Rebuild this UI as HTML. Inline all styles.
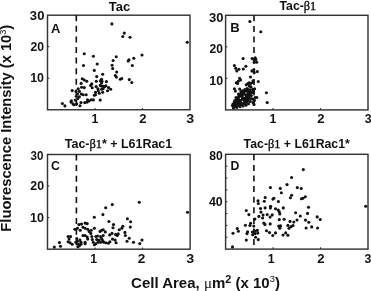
<!DOCTYPE html><html><head><meta charset="utf-8"><title>Figure</title><style>
html,body{margin:0;padding:0;background:#fff;width:371px;height:291px;overflow:hidden}
svg{display:block}
.t{font-family:"Liberation Sans",Arial,sans-serif;font-weight:bold;fill:#111}
.s{font-family:"Liberation Serif","Times New Roman",serif;font-weight:normal;fill:#111;stroke:#111;stroke-width:0.35px}
.n{font-weight:normal}
</style></head><body>
<svg width="371" height="291" viewBox="0 0 371 291">
<rect width="371" height="291" fill="#fff"/>
<rect x="47.5" y="15.2" width="142.50" height="94.55" fill="none" stroke="#353535" stroke-width="1.45"/>
<line x1="47.5" y1="78.23" x2="49.3" y2="78.23" stroke="#353535" stroke-width="1.1"/>
<line x1="47.5" y1="46.72" x2="49.3" y2="46.72" stroke="#353535" stroke-width="1.1"/>
<line x1="95.00" y1="109.75" x2="95.00" y2="107.95" stroke="#353535" stroke-width="1.1"/>
<line x1="142.50" y1="109.75" x2="142.50" y2="107.95" stroke="#353535" stroke-width="1.1"/>
<line x1="76.3" y1="15.2" x2="76.3" y2="109.75" stroke="#111" stroke-width="1.6" stroke-dasharray="6 4.6"/>
<rect x="225.6" y="15.3" width="142.40" height="94.60" fill="none" stroke="#353535" stroke-width="1.45"/>
<line x1="225.6" y1="78.37" x2="227.4" y2="78.37" stroke="#353535" stroke-width="1.1"/>
<line x1="225.6" y1="46.83" x2="227.4" y2="46.83" stroke="#353535" stroke-width="1.1"/>
<line x1="273.07" y1="109.9" x2="273.07" y2="108.10000000000001" stroke="#353535" stroke-width="1.1"/>
<line x1="320.53" y1="109.9" x2="320.53" y2="108.10000000000001" stroke="#353535" stroke-width="1.1"/>
<line x1="254.0" y1="15.3" x2="254.0" y2="109.9" stroke="#111" stroke-width="1.6" stroke-dasharray="6 4.6"/>
<rect x="47.5" y="154.5" width="142.60" height="94.70" fill="none" stroke="#353535" stroke-width="1.45"/>
<line x1="47.5" y1="217.63" x2="49.3" y2="217.63" stroke="#353535" stroke-width="1.1"/>
<line x1="47.5" y1="186.07" x2="49.3" y2="186.07" stroke="#353535" stroke-width="1.1"/>
<line x1="95.03" y1="249.2" x2="95.03" y2="247.39999999999998" stroke="#353535" stroke-width="1.1"/>
<line x1="142.57" y1="249.2" x2="142.57" y2="247.39999999999998" stroke="#353535" stroke-width="1.1"/>
<line x1="76.4" y1="154.5" x2="76.4" y2="249.2" stroke="#111" stroke-width="1.6" stroke-dasharray="6 4.6"/>
<rect x="225.6" y="154.3" width="142.40" height="94.80" fill="none" stroke="#353535" stroke-width="1.45"/>
<line x1="225.6" y1="237.25" x2="227.4" y2="237.25" stroke="#353535" stroke-width="1.1"/>
<line x1="225.6" y1="225.40" x2="227.4" y2="225.40" stroke="#353535" stroke-width="1.1"/>
<line x1="225.6" y1="213.55" x2="227.4" y2="213.55" stroke="#353535" stroke-width="1.1"/>
<line x1="225.6" y1="201.70" x2="227.4" y2="201.70" stroke="#353535" stroke-width="1.1"/>
<line x1="225.6" y1="189.85" x2="227.4" y2="189.85" stroke="#353535" stroke-width="1.1"/>
<line x1="225.6" y1="178.00" x2="227.4" y2="178.00" stroke="#353535" stroke-width="1.1"/>
<line x1="225.6" y1="166.15" x2="227.4" y2="166.15" stroke="#353535" stroke-width="1.1"/>
<line x1="273.07" y1="249.1" x2="273.07" y2="247.29999999999998" stroke="#353535" stroke-width="1.1"/>
<line x1="320.53" y1="249.1" x2="320.53" y2="247.29999999999998" stroke="#353535" stroke-width="1.1"/>
<line x1="253.9" y1="154.3" x2="253.9" y2="249.1" stroke="#111" stroke-width="1.6" stroke-dasharray="6 4.6"/>
<circle cx="111.9" cy="23.9" r="1.55" fill="#111"/>
<circle cx="124.3" cy="33.1" r="1.55" fill="#111"/>
<circle cx="122.8" cy="36.5" r="1.55" fill="#111"/>
<circle cx="130.0" cy="37.2" r="1.55" fill="#111"/>
<circle cx="187.2" cy="42.2" r="1.55" fill="#111"/>
<circle cx="84.2" cy="53.8" r="1.55" fill="#111"/>
<circle cx="93.4" cy="56.2" r="1.55" fill="#111"/>
<circle cx="116.2" cy="56.7" r="1.55" fill="#111"/>
<circle cx="113.1" cy="60.5" r="1.55" fill="#111"/>
<circle cx="142.0" cy="55.0" r="1.55" fill="#111"/>
<circle cx="133.8" cy="58.3" r="1.55" fill="#111"/>
<circle cx="128.2" cy="61.0" r="1.55" fill="#111"/>
<circle cx="129.0" cy="59.8" r="1.55" fill="#111"/>
<circle cx="83.5" cy="65.5" r="1.55" fill="#111"/>
<circle cx="97.2" cy="64.0" r="1.55" fill="#111"/>
<circle cx="94.3" cy="70.4" r="1.55" fill="#111"/>
<circle cx="96.7" cy="76.6" r="1.55" fill="#111"/>
<circle cx="82.3" cy="78.7" r="1.55" fill="#111"/>
<circle cx="84.3" cy="80.0" r="1.55" fill="#111"/>
<circle cx="86.8" cy="81.2" r="1.55" fill="#111"/>
<circle cx="81.1" cy="83.4" r="1.55" fill="#111"/>
<circle cx="96.3" cy="81.2" r="1.55" fill="#111"/>
<circle cx="91.8" cy="83.9" r="1.55" fill="#111"/>
<circle cx="90.7" cy="85.4" r="1.55" fill="#111"/>
<circle cx="112.1" cy="65.2" r="1.55" fill="#111"/>
<circle cx="112.7" cy="68.5" r="1.55" fill="#111"/>
<circle cx="116.7" cy="72.0" r="1.55" fill="#111"/>
<circle cx="115.3" cy="75.5" r="1.55" fill="#111"/>
<circle cx="116.4" cy="77.1" r="1.55" fill="#111"/>
<circle cx="120.3" cy="79.3" r="1.55" fill="#111"/>
<circle cx="121.8" cy="78.5" r="1.55" fill="#111"/>
<circle cx="132.3" cy="65.5" r="1.55" fill="#111"/>
<circle cx="129.3" cy="79.6" r="1.55" fill="#111"/>
<circle cx="131.8" cy="82.5" r="1.55" fill="#111"/>
<circle cx="102.7" cy="74.2" r="1.55" fill="#111"/>
<circle cx="101.5" cy="79.2" r="1.55" fill="#111"/>
<circle cx="100.5" cy="80.9" r="1.55" fill="#111"/>
<circle cx="106.4" cy="81.6" r="1.55" fill="#111"/>
<circle cx="101.6" cy="83.0" r="1.55" fill="#111"/>
<circle cx="103.2" cy="86.2" r="1.55" fill="#111"/>
<circle cx="92.2" cy="87.7" r="1.55" fill="#111"/>
<circle cx="96.1" cy="86.6" r="1.55" fill="#111"/>
<circle cx="100.3" cy="85.4" r="1.55" fill="#111"/>
<circle cx="105.9" cy="85.8" r="1.55" fill="#111"/>
<circle cx="97.9" cy="88.8" r="1.55" fill="#111"/>
<circle cx="101.6" cy="89.2" r="1.55" fill="#111"/>
<circle cx="108.5" cy="87.6" r="1.55" fill="#111"/>
<circle cx="110.7" cy="89.2" r="1.55" fill="#111"/>
<circle cx="107.5" cy="90.7" r="1.55" fill="#111"/>
<circle cx="95.5" cy="92.3" r="1.55" fill="#111"/>
<circle cx="99.3" cy="93.2" r="1.55" fill="#111"/>
<circle cx="102.7" cy="92.2" r="1.55" fill="#111"/>
<circle cx="94.3" cy="95.2" r="1.55" fill="#111"/>
<circle cx="102" cy="81.2" r="1.55" fill="#111"/>
<circle cx="101.5" cy="86.1" r="1.55" fill="#111"/>
<circle cx="104.7" cy="86.6" r="1.55" fill="#111"/>
<circle cx="103.1" cy="88.8" r="1.55" fill="#111"/>
<circle cx="95.5" cy="94.7" r="1.55" fill="#111"/>
<circle cx="100.2" cy="100.1" r="1.55" fill="#111"/>
<circle cx="62.4" cy="103.5" r="1.55" fill="#111"/>
<circle cx="64.9" cy="105.9" r="1.55" fill="#111"/>
<circle cx="71.0" cy="102.1" r="1.55" fill="#111"/>
<circle cx="72.9" cy="103.7" r="1.55" fill="#111"/>
<circle cx="74" cy="104.8" r="1.55" fill="#111"/>
<circle cx="76.7" cy="103.7" r="1.55" fill="#111"/>
<circle cx="80" cy="105.7" r="1.55" fill="#111"/>
<circle cx="81" cy="102.6" r="1.55" fill="#111"/>
<circle cx="87.5" cy="99.8" r="1.55" fill="#111"/>
<circle cx="91.3" cy="99.7" r="1.55" fill="#111"/>
<circle cx="93.4" cy="99.9" r="1.55" fill="#111"/>
<circle cx="84.8" cy="102.6" r="1.55" fill="#111"/>
<circle cx="87" cy="102.1" r="1.55" fill="#111"/>
<circle cx="89.1" cy="101" r="1.55" fill="#111"/>
<circle cx="98.3" cy="90.8" r="1.55" fill="#111"/>
<circle cx="81.6" cy="87.2" r="1.55" fill="#111"/>
<circle cx="84.3" cy="87.6" r="1.55" fill="#111"/>
<circle cx="78.2" cy="88.7" r="1.55" fill="#111"/>
<circle cx="72.2" cy="90.6" r="1.55" fill="#111"/>
<circle cx="76.0" cy="91.4" r="1.55" fill="#111"/>
<circle cx="79.4" cy="91.4" r="1.55" fill="#111"/>
<circle cx="77.5" cy="94.0" r="1.55" fill="#111"/>
<circle cx="81.3" cy="94.0" r="1.55" fill="#111"/>
<circle cx="83.2" cy="94.8" r="1.55" fill="#111"/>
<circle cx="86.2" cy="94.8" r="1.55" fill="#111"/>
<circle cx="76.3" cy="96.3" r="1.55" fill="#111"/>
<circle cx="79.4" cy="96.7" r="1.55" fill="#111"/>
<circle cx="77.8" cy="98.6" r="1.55" fill="#111"/>
<circle cx="75.2" cy="100.1" r="1.55" fill="#111"/>
<circle cx="71.4" cy="100.8" r="1.55" fill="#111"/>
<circle cx="249.9" cy="21.5" r="1.55" fill="#111"/>
<circle cx="260.8" cy="31.7" r="1.55" fill="#111"/>
<circle cx="243.1" cy="58.5" r="1.55" fill="#111"/>
<circle cx="252.1" cy="58.5" r="1.55" fill="#111"/>
<circle cx="255.2" cy="57.9" r="1.55" fill="#111"/>
<circle cx="255.9" cy="59.5" r="1.55" fill="#111"/>
<circle cx="254.2" cy="60.4" r="1.55" fill="#111"/>
<circle cx="256.7" cy="62.2" r="1.55" fill="#111"/>
<circle cx="254.2" cy="62.2" r="1.55" fill="#111"/>
<circle cx="234.4" cy="65.5" r="1.55" fill="#111"/>
<circle cx="235.7" cy="68.2" r="1.55" fill="#111"/>
<circle cx="236.8" cy="70.9" r="1.55" fill="#111"/>
<circle cx="238.9" cy="69.3" r="1.55" fill="#111"/>
<circle cx="245.9" cy="66.2" r="1.55" fill="#111"/>
<circle cx="243.3" cy="69.0" r="1.55" fill="#111"/>
<circle cx="251.9" cy="70.9" r="1.55" fill="#111"/>
<circle cx="253.8" cy="69.8" r="1.55" fill="#111"/>
<circle cx="254.2" cy="72.5" r="1.55" fill="#111"/>
<circle cx="257.3" cy="71.6" r="1.55" fill="#111"/>
<circle cx="250.5" cy="77.0" r="1.55" fill="#111"/>
<circle cx="239.6" cy="78.4" r="1.55" fill="#111"/>
<circle cx="240.6" cy="80.0" r="1.55" fill="#111"/>
<circle cx="238.2" cy="81.3" r="1.55" fill="#111"/>
<circle cx="236.3" cy="82.7" r="1.55" fill="#111"/>
<circle cx="253.0" cy="80.9" r="1.55" fill="#111"/>
<circle cx="258.3" cy="81.5" r="1.55" fill="#111"/>
<circle cx="249.2" cy="82.7" r="1.55" fill="#111"/>
<circle cx="234.4" cy="88.8" r="1.55" fill="#111"/>
<circle cx="235.4" cy="91.1" r="1.55" fill="#111"/>
<circle cx="239.7" cy="89.0" r="1.55" fill="#111"/>
<circle cx="252.7" cy="89.3" r="1.55" fill="#111"/>
<circle cx="254.6" cy="88.8" r="1.55" fill="#111"/>
<circle cx="253.1" cy="92.6" r="1.55" fill="#111"/>
<circle cx="255.2" cy="97.5" r="1.55" fill="#111"/>
<circle cx="254.4" cy="100.4" r="1.55" fill="#111"/>
<circle cx="253.0" cy="102.5" r="1.55" fill="#111"/>
<circle cx="254.0" cy="104.5" r="1.55" fill="#111"/>
<circle cx="256.8" cy="97.5" r="1.55" fill="#111"/>
<circle cx="237.6" cy="83.5" r="1.55" fill="#111"/>
<circle cx="246.2" cy="84.8" r="1.55" fill="#111"/>
<circle cx="248.0" cy="83.5" r="1.55" fill="#111"/>
<circle cx="249.2" cy="86.1" r="1.55" fill="#111"/>
<circle cx="250.5" cy="83.5" r="1.55" fill="#111"/>
<circle cx="252.7" cy="82.6" r="1.55" fill="#111"/>
<circle cx="253.1" cy="90.8" r="1.55" fill="#111"/>
<circle cx="251.0" cy="86.9" r="1.55" fill="#111"/>
<circle cx="242.3" cy="90.8" r="1.55" fill="#111"/>
<circle cx="244.9" cy="89.5" r="1.55" fill="#111"/>
<circle cx="248.0" cy="89.9" r="1.55" fill="#111"/>
<circle cx="250.1" cy="91.2" r="1.55" fill="#111"/>
<circle cx="236.0" cy="97.5" r="1.55" fill="#111"/>
<circle cx="238.5" cy="94.0" r="1.55" fill="#111"/>
<circle cx="241.0" cy="91.6" r="1.55" fill="#111"/>
<circle cx="247.0" cy="88.6" r="1.55" fill="#111"/>
<circle cx="249.8" cy="89.8" r="1.55" fill="#111"/>
<circle cx="251.0" cy="92.5" r="1.55" fill="#111"/>
<circle cx="251.3" cy="95.5" r="1.55" fill="#111"/>
<circle cx="251.0" cy="98.5" r="1.55" fill="#111"/>
<circle cx="250.3" cy="101.5" r="1.55" fill="#111"/>
<circle cx="248.5" cy="103.8" r="1.55" fill="#111"/>
<circle cx="246.0" cy="105.2" r="1.55" fill="#111"/>
<circle cx="243.0" cy="106.0" r="1.55" fill="#111"/>
<circle cx="240.0" cy="106.6" r="1.55" fill="#111"/>
<circle cx="236.8" cy="107.5" r="1.55" fill="#111"/>
<circle cx="233.5" cy="108.0" r="1.55" fill="#111"/>
<circle cx="232.5" cy="105.5" r="1.55" fill="#111"/>
<circle cx="234.3" cy="102.0" r="1.55" fill="#111"/>
<circle cx="252.7" cy="99.0" r="1.55" fill="#111"/>
<circle cx="233.0" cy="104.0" r="1.55" fill="#111"/>
<circle cx="235.0" cy="100.5" r="1.55" fill="#111"/>
<circle cx="266.4" cy="92.7" r="1.55" fill="#111"/>
<circle cx="267.2" cy="102.6" r="1.55" fill="#111"/>
<circle cx="112.3" cy="204.6" r="1.55" fill="#111"/>
<circle cx="139.3" cy="202.2" r="1.55" fill="#111"/>
<circle cx="187.5" cy="212.3" r="1.55" fill="#111"/>
<circle cx="54.3" cy="247.1" r="1.55" fill="#111"/>
<circle cx="59.4" cy="242.6" r="1.55" fill="#111"/>
<circle cx="60.5" cy="246.2" r="1.55" fill="#111"/>
<circle cx="105.7" cy="207.8" r="1.55" fill="#111"/>
<circle cx="102.9" cy="214.6" r="1.55" fill="#111"/>
<circle cx="94.3" cy="217.3" r="1.55" fill="#111"/>
<circle cx="127.4" cy="218.8" r="1.55" fill="#111"/>
<circle cx="130.6" cy="221.7" r="1.55" fill="#111"/>
<circle cx="130.3" cy="227.1" r="1.55" fill="#111"/>
<circle cx="129.2" cy="238.2" r="1.55" fill="#111"/>
<circle cx="133.5" cy="242.3" r="1.55" fill="#111"/>
<circle cx="142.0" cy="240.1" r="1.55" fill="#111"/>
<circle cx="139.8" cy="243.6" r="1.55" fill="#111"/>
<circle cx="78.9" cy="224.6" r="1.55" fill="#111"/>
<circle cx="81.5" cy="224.1" r="1.55" fill="#111"/>
<circle cx="85.1" cy="223.1" r="1.55" fill="#111"/>
<circle cx="87.2" cy="223.6" r="1.55" fill="#111"/>
<circle cx="74.8" cy="229.3" r="1.55" fill="#111"/>
<circle cx="77.4" cy="228.3" r="1.55" fill="#111"/>
<circle cx="80.2" cy="230.3" r="1.55" fill="#111"/>
<circle cx="83.0" cy="227.2" r="1.55" fill="#111"/>
<circle cx="85.1" cy="228.3" r="1.55" fill="#111"/>
<circle cx="87.7" cy="229.3" r="1.55" fill="#111"/>
<circle cx="89.2" cy="231.4" r="1.55" fill="#111"/>
<circle cx="91.3" cy="230.3" r="1.55" fill="#111"/>
<circle cx="94.4" cy="228.3" r="1.55" fill="#111"/>
<circle cx="68.1" cy="236.5" r="1.55" fill="#111"/>
<circle cx="70.6" cy="236.5" r="1.55" fill="#111"/>
<circle cx="69.1" cy="239.1" r="1.55" fill="#111"/>
<circle cx="68.1" cy="241.7" r="1.55" fill="#111"/>
<circle cx="70.1" cy="242.7" r="1.55" fill="#111"/>
<circle cx="72.2" cy="244.3" r="1.55" fill="#111"/>
<circle cx="76.8" cy="238.6" r="1.55" fill="#111"/>
<circle cx="77.4" cy="241.2" r="1.55" fill="#111"/>
<circle cx="75.8" cy="242.2" r="1.55" fill="#111"/>
<circle cx="78.4" cy="244.3" r="1.55" fill="#111"/>
<circle cx="79.4" cy="245.8" r="1.55" fill="#111"/>
<circle cx="77.9" cy="246.8" r="1.55" fill="#111"/>
<circle cx="79.9" cy="240.1" r="1.55" fill="#111"/>
<circle cx="81.0" cy="242.2" r="1.55" fill="#111"/>
<circle cx="81.0" cy="244.3" r="1.55" fill="#111"/>
<circle cx="83.0" cy="235.5" r="1.55" fill="#111"/>
<circle cx="85.1" cy="235.5" r="1.55" fill="#111"/>
<circle cx="87.2" cy="237.0" r="1.55" fill="#111"/>
<circle cx="87.7" cy="239.1" r="1.55" fill="#111"/>
<circle cx="85.1" cy="242.2" r="1.55" fill="#111"/>
<circle cx="85.1" cy="243.7" r="1.55" fill="#111"/>
<circle cx="90.8" cy="233.4" r="1.55" fill="#111"/>
<circle cx="91.8" cy="236.5" r="1.55" fill="#111"/>
<circle cx="92.3" cy="239.6" r="1.55" fill="#111"/>
<circle cx="93.3" cy="242.2" r="1.55" fill="#111"/>
<circle cx="94.4" cy="244.8" r="1.55" fill="#111"/>
<circle cx="95.9" cy="236.5" r="1.55" fill="#111"/>
<circle cx="96.7" cy="239.6" r="1.55" fill="#111"/>
<circle cx="95.9" cy="243.7" r="1.55" fill="#111"/>
<circle cx="108.9" cy="221.5" r="1.55" fill="#111"/>
<circle cx="113.5" cy="224.6" r="1.55" fill="#111"/>
<circle cx="113.0" cy="227.7" r="1.55" fill="#111"/>
<circle cx="122.8" cy="226.2" r="1.55" fill="#111"/>
<circle cx="121.8" cy="228.3" r="1.55" fill="#111"/>
<circle cx="119.2" cy="229.8" r="1.55" fill="#111"/>
<circle cx="101.7" cy="230.3" r="1.55" fill="#111"/>
<circle cx="103.2" cy="229.8" r="1.55" fill="#111"/>
<circle cx="105.3" cy="231.9" r="1.55" fill="#111"/>
<circle cx="100.1" cy="231.4" r="1.55" fill="#111"/>
<circle cx="124.9" cy="232.4" r="1.55" fill="#111"/>
<circle cx="125.4" cy="235.5" r="1.55" fill="#111"/>
<circle cx="109.7" cy="234.9" r="1.55" fill="#111"/>
<circle cx="112.0" cy="233.4" r="1.55" fill="#111"/>
<circle cx="115.6" cy="234.4" r="1.55" fill="#111"/>
<circle cx="118.2" cy="233.9" r="1.55" fill="#111"/>
<circle cx="117.2" cy="235.5" r="1.55" fill="#111"/>
<circle cx="97.5" cy="236.0" r="1.55" fill="#111"/>
<circle cx="100.6" cy="236.5" r="1.55" fill="#111"/>
<circle cx="103.2" cy="235.5" r="1.55" fill="#111"/>
<circle cx="99.1" cy="240.1" r="1.55" fill="#111"/>
<circle cx="101.7" cy="238.6" r="1.55" fill="#111"/>
<circle cx="102.7" cy="240.6" r="1.55" fill="#111"/>
<circle cx="98.1" cy="242.2" r="1.55" fill="#111"/>
<circle cx="100.6" cy="242.2" r="1.55" fill="#111"/>
<circle cx="103.7" cy="242.2" r="1.55" fill="#111"/>
<circle cx="105.8" cy="242.7" r="1.55" fill="#111"/>
<circle cx="108.4" cy="243.2" r="1.55" fill="#111"/>
<circle cx="109.9" cy="241.7" r="1.55" fill="#111"/>
<circle cx="112.5" cy="239.1" r="1.55" fill="#111"/>
<circle cx="115.1" cy="240.1" r="1.55" fill="#111"/>
<circle cx="116.1" cy="242.7" r="1.55" fill="#111"/>
<circle cx="127.0" cy="241.2" r="1.55" fill="#111"/>
<circle cx="303.3" cy="169.6" r="1.55" fill="#111"/>
<circle cx="291.6" cy="177.5" r="1.55" fill="#111"/>
<circle cx="287.0" cy="184.6" r="1.55" fill="#111"/>
<circle cx="270.4" cy="187.6" r="1.55" fill="#111"/>
<circle cx="280.3" cy="188.4" r="1.55" fill="#111"/>
<circle cx="281.4" cy="192.8" r="1.55" fill="#111"/>
<circle cx="297.3" cy="187.6" r="1.55" fill="#111"/>
<circle cx="301.2" cy="188.5" r="1.55" fill="#111"/>
<circle cx="291.6" cy="195.3" r="1.55" fill="#111"/>
<circle cx="290.4" cy="197.8" r="1.55" fill="#111"/>
<circle cx="265.2" cy="197.5" r="1.55" fill="#111"/>
<circle cx="272.9" cy="199.1" r="1.55" fill="#111"/>
<circle cx="278.4" cy="201.5" r="1.55" fill="#111"/>
<circle cx="302.9" cy="198.3" r="1.55" fill="#111"/>
<circle cx="305.3" cy="196.7" r="1.55" fill="#111"/>
<circle cx="264.3" cy="201.3" r="1.55" fill="#111"/>
<circle cx="258.0" cy="200.7" r="1.55" fill="#111"/>
<circle cx="258.3" cy="203.5" r="1.55" fill="#111"/>
<circle cx="260.5" cy="208.5" r="1.55" fill="#111"/>
<circle cx="265.1" cy="207.9" r="1.55" fill="#111"/>
<circle cx="261.0" cy="212.1" r="1.55" fill="#111"/>
<circle cx="246.3" cy="210.5" r="1.55" fill="#111"/>
<circle cx="248.9" cy="214.6" r="1.55" fill="#111"/>
<circle cx="263.1" cy="215.1" r="1.55" fill="#111"/>
<circle cx="258.9" cy="216.4" r="1.55" fill="#111"/>
<circle cx="262.6" cy="218.0" r="1.55" fill="#111"/>
<circle cx="254.9" cy="219.1" r="1.55" fill="#111"/>
<circle cx="263.8" cy="223.1" r="1.55" fill="#111"/>
<circle cx="264.9" cy="224.4" r="1.55" fill="#111"/>
<circle cx="245.4" cy="225.3" r="1.55" fill="#111"/>
<circle cx="250.6" cy="223.2" r="1.55" fill="#111"/>
<circle cx="249.9" cy="225.5" r="1.55" fill="#111"/>
<circle cx="253.8" cy="226.1" r="1.55" fill="#111"/>
<circle cx="237.3" cy="228.6" r="1.55" fill="#111"/>
<circle cx="238.4" cy="231.2" r="1.55" fill="#111"/>
<circle cx="233.0" cy="233.3" r="1.55" fill="#111"/>
<circle cx="247.6" cy="231.8" r="1.55" fill="#111"/>
<circle cx="247.0" cy="233.6" r="1.55" fill="#111"/>
<circle cx="252.4" cy="232.0" r="1.55" fill="#111"/>
<circle cx="254.6" cy="230.9" r="1.55" fill="#111"/>
<circle cx="257.3" cy="230.4" r="1.55" fill="#111"/>
<circle cx="252.7" cy="234.8" r="1.55" fill="#111"/>
<circle cx="255.1" cy="233.6" r="1.55" fill="#111"/>
<circle cx="257.8" cy="233.1" r="1.55" fill="#111"/>
<circle cx="255.6" cy="237.2" r="1.55" fill="#111"/>
<circle cx="258.3" cy="239.6" r="1.55" fill="#111"/>
<circle cx="246.3" cy="240.1" r="1.55" fill="#111"/>
<circle cx="232.5" cy="246.9" r="1.55" fill="#111"/>
<circle cx="273.9" cy="198.2" r="1.55" fill="#111"/>
<circle cx="301.4" cy="198.8" r="1.55" fill="#111"/>
<circle cx="270.6" cy="206.3" r="1.55" fill="#111"/>
<circle cx="270.4" cy="207.9" r="1.55" fill="#111"/>
<circle cx="275.5" cy="208.8" r="1.55" fill="#111"/>
<circle cx="278.2" cy="210.1" r="1.55" fill="#111"/>
<circle cx="279.3" cy="211.7" r="1.55" fill="#111"/>
<circle cx="279.8" cy="213.9" r="1.55" fill="#111"/>
<circle cx="283.3" cy="207.9" r="1.55" fill="#111"/>
<circle cx="295.6" cy="212.8" r="1.55" fill="#111"/>
<circle cx="267.2" cy="214.6" r="1.55" fill="#111"/>
<circle cx="270.1" cy="217.1" r="1.55" fill="#111"/>
<circle cx="272.2" cy="214.9" r="1.55" fill="#111"/>
<circle cx="279.3" cy="219.6" r="1.55" fill="#111"/>
<circle cx="284.1" cy="219.3" r="1.55" fill="#111"/>
<circle cx="300.3" cy="216.0" r="1.55" fill="#111"/>
<circle cx="290.0" cy="221.4" r="1.55" fill="#111"/>
<circle cx="293.8" cy="222.0" r="1.55" fill="#111"/>
<circle cx="297.0" cy="220.0" r="1.55" fill="#111"/>
<circle cx="270.2" cy="223.9" r="1.55" fill="#111"/>
<circle cx="280.6" cy="225.9" r="1.55" fill="#111"/>
<circle cx="287.9" cy="225.4" r="1.55" fill="#111"/>
<circle cx="293.0" cy="225.5" r="1.55" fill="#111"/>
<circle cx="278.7" cy="226.1" r="1.55" fill="#111"/>
<circle cx="279.8" cy="228.2" r="1.55" fill="#111"/>
<circle cx="289.0" cy="228.2" r="1.55" fill="#111"/>
<circle cx="291.1" cy="226.6" r="1.55" fill="#111"/>
<circle cx="266.5" cy="230.7" r="1.55" fill="#111"/>
<circle cx="269.5" cy="232.6" r="1.55" fill="#111"/>
<circle cx="272.8" cy="235.5" r="1.55" fill="#111"/>
<circle cx="275.5" cy="232.9" r="1.55" fill="#111"/>
<circle cx="283.0" cy="235.0" r="1.55" fill="#111"/>
<circle cx="285.7" cy="232.9" r="1.55" fill="#111"/>
<circle cx="287.9" cy="235.3" r="1.55" fill="#111"/>
<circle cx="308.5" cy="207.2" r="1.55" fill="#111"/>
<circle cx="307.5" cy="213.4" r="1.55" fill="#111"/>
<circle cx="305.5" cy="220.1" r="1.55" fill="#111"/>
<circle cx="308.8" cy="222.3" r="1.55" fill="#111"/>
<circle cx="317.2" cy="216.9" r="1.55" fill="#111"/>
<circle cx="320.2" cy="219.5" r="1.55" fill="#111"/>
<circle cx="306.1" cy="228.0" r="1.55" fill="#111"/>
<circle cx="311.7" cy="226.9" r="1.55" fill="#111"/>
<circle cx="317.6" cy="228.0" r="1.55" fill="#111"/>
<circle cx="365.7" cy="206.3" r="1.55" fill="#111"/>
<path d="M232.1,107.2 L233.5,103.5 L235.7,99.5 L237.5,96.5 L239.3,93.5 L241.5,91.3 L243.7,90.0 L246.5,89.3 L249.0,89.6 L250.3,91.0 L250.5,93.5 L250.0,96.5 L249.3,100.0 L247.8,102.5 L245.0,104.3 L241.0,105.6 L237.5,106.6 L234.5,108.0 Z" fill="#111" stroke="#111" stroke-width="1.0" stroke-linejoin="round"/>
<circle cx="240.4" cy="98.2" r="0.7" fill="#fff"/>
<circle cx="244.2" cy="96.2" r="0.7" fill="#fff"/>
<circle cx="246.0" cy="93.0" r="0.7" fill="#fff"/>
<circle cx="242.5" cy="101.5" r="0.7" fill="#fff"/>
<text class="t" font-size="12.30" transform="translate(29.87,19.70) scale(1.0645,1)" x="0" y="0">30</text>
<text class="t" font-size="12.30" transform="translate(30.58,51.10) scale(0.9940,1)" x="0" y="0">20</text>
<text class="t" font-size="12.30" transform="translate(30.20,81.50) scale(1.0121,1)" x="0" y="0">10</text>
<text class="t" font-size="12.30" transform="translate(209.02,21.50) scale(1.0582,1)" x="0" y="0">30</text>
<text class="t" font-size="12.30" transform="translate(209.49,52.80) scale(0.9813,1)" x="0" y="0">20</text>
<text class="t" font-size="12.30" transform="translate(209.19,84.60) scale(1.0163,1)" x="0" y="0">10</text>
<text class="t" font-size="12.30" transform="translate(30.56,160.00) scale(0.9405,1)" x="0" y="0">30</text>
<text class="t" font-size="12.30" transform="translate(30.27,190.40) scale(1.0054,1)" x="0" y="0">20</text>
<text class="t" font-size="12.30" transform="translate(30.07,222.30) scale(1.0259,1)" x="0" y="0">10</text>
<text class="t" font-size="12.30" transform="translate(209.17,159.70) scale(0.9909,1)" x="0" y="0">80</text>
<text class="t" font-size="12.30" transform="translate(208.88,206.20) scale(1.0104,1)" x="0" y="0">40</text>
<text class="t" font-size="12.30" transform="translate(91.40,123.30) scale(1.0000,1)" x="0" y="0">1</text>
<text class="t" font-size="12.30" transform="translate(139.14,123.20) scale(1.0653,1)" x="0" y="0">2</text>
<text class="t" font-size="12.30" transform="translate(186.20,122.60) scale(1.1600,1)" x="0" y="0">3</text>
<text class="t" font-size="12.30" transform="translate(269.40,123.30) scale(1.0000,1)" x="0" y="0">1</text>
<text class="t" font-size="12.30" transform="translate(317.14,123.20) scale(1.0653,1)" x="0" y="0">2</text>
<text class="t" font-size="12.30" transform="translate(364.85,122.60) scale(1.0000,1)" x="0" y="0">3</text>
<text class="t" font-size="12.30" transform="translate(90.20,262.50) scale(1.0000,1)" x="0" y="0">1</text>
<text class="t" font-size="12.30" transform="translate(137.85,262.60) scale(1.1101,1)" x="0" y="0">2</text>
<text class="t" font-size="12.30" transform="translate(186.20,262.60) scale(1.1600,1)" x="0" y="0">3</text>
<text class="t" font-size="12.30" transform="translate(267.67,262.50) scale(1.0000,1)" x="0" y="0">1</text>
<text class="t" font-size="12.30" transform="translate(317.14,262.60) scale(1.0653,1)" x="0" y="0">2</text>
<text class="t" font-size="12.30" transform="translate(364.53,262.60) scale(1.0000,1)" x="0" y="0">3</text>
<text class="t" font-size="12.30" transform="translate(51.12,32.90) scale(1.0580,1)" x="0" y="0">A</text>
<text class="t" font-size="12.30" transform="translate(230.22,31.60) scale(1.0641,1)" x="0" y="0">B</text>
<text class="t" font-size="12.30" transform="translate(51.12,169.90) scale(1.0000,1)" x="0" y="0">C</text>
<text class="t" font-size="12.30" transform="translate(230.61,170.40) scale(0.9926,1)" x="0" y="0">D</text>
<text class="t" font-size="12.30" transform="translate(108.79,10.50) scale(1.0567,1)" x="0" y="0">Tac</text>
<text class="t" font-size="12.30" transform="translate(279.47,9.70) scale(1.0011,1)" x="0" y="0">Tac-<tspan class="s">β1</tspan></text>
<text class="t" font-size="12.30" transform="translate(64.83,147.50) scale(1.0114,1)" x="0" y="0">Tac-<tspan class="s">β1</tspan>* + L61Rac1</text>
<text class="t" font-size="12.30" transform="translate(243.61,147.50) scale(1.0011,1)" x="0" y="0">Tac-<tspan class="s">β1</tspan> + L61Rac1*</text>
<text class="t" font-size="14.50" transform="translate(11.20,231.66) rotate(-90) scale(1.0150,1)" x="0" y="0">Fluorescence Intensity (x 10<tspan class="n" font-size="9" dy="-5.5">3</tspan><tspan dy="5.5">)</tspan></text>
<text class="t" font-size="14.50" transform="translate(131.08,287.60) scale(1.0348,1)" x="0" y="0">Cell Area, <tspan class="s" style="stroke:none">μ</tspan>m<tspan font-size="10.5" dy="-5">2</tspan><tspan dy="5"> (x 10</tspan><tspan class="n" font-size="9" dy="-5.5">3</tspan><tspan dy="5.5">)</tspan></text>
</svg></body></html>
